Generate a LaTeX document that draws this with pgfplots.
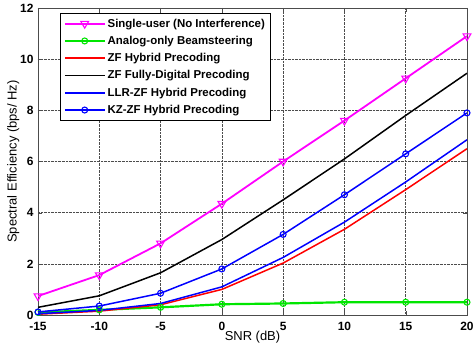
\documentclass[border=0pt]{standalone}
\usepackage{pgfplots}
\pgfplotsset{compat=1.18}
\usepackage{fontspec}
\setmainfont{Liberation Sans}
\begin{document}
\begin{tikzpicture}
\begin{axis}[
  scale only axis, width=429bp, height=307bp,
  xmin=-15, xmax=20, ymin=0, ymax=12,
  xtick={-15,-10,...,20}, ytick={0,2,...,12},
  grid=major, grid style={densely dotted, black!70, line width=0.5pt},
  axis line style={black!70, line width=0.8pt},
  tick style={black!70},
  tick align=inside,
  /pgf/number format/assume math mode=true,
  ticklabel style={font=\fontsize{12}{12}\selectfont\bfseries},
  xticklabel style={yshift=-3.5pt},
  yticklabel style={xshift=-1pt},
  xlabel={SNR (dB)}, ylabel={Spectral Efficiency (bps/ Hz)},
  label style={font=\fontsize{13}{13}\selectfont},
  xlabel style={yshift=6pt},
  ylabel style={yshift=-6pt},
  legend cell align=left,
  legend style={at={(0.051,0.984)}, anchor=north west, draw=black, line width=0.8pt,
    font=\fontsize{11.5}{13}\selectfont\bfseries, row sep=3.5pt, inner sep=3.5pt},
  legend image code/.code={\draw[mark repeat=2,mark phase=2] plot coordinates {(0cm,0cm) (0.7cm,0cm) (1.4cm,0cm)};},
  every axis plot/.append style={line width=1.5pt},
  mark options={solid, line width=1.1pt},
]
\coordinate (sw) at (rel axis cs:0,0);
\coordinate (ne) at (rel axis cs:1,1);
\addplot[color={rgb,255:red,255;green,0;blue,255}, line width=1.8pt, mark=triangle, mark size=4.5pt, mark options={rotate=180, solid, line width=1.1pt}] coordinates {
(-15,0.74) (-10,1.56) (-5,2.8) (0,4.35) (5,6.0) (10,7.6) (15,9.25) (20,10.9)};
\addlegendentry{Single-user (No Interference)}
\addplot[color={rgb,255:red,0;green,230;blue,0}, line width=2.2pt, mark=o, mark size=3pt] coordinates {
(-15,0.1) (-10,0.2) (-5,0.3) (0,0.42) (5,0.45) (10,0.5) (15,0.5) (20,0.5)};
\addlegendentry{Analog-only Beamsteering}
\addplot[color=red] coordinates {
(-15,0.03) (-10,0.15) (-5,0.4) (0,1.0) (5,2.03) (10,3.35) (15,4.9) (20,6.5)};
\addlegendentry{ZF Hybrid Precoding}
\addplot[color=black] coordinates {
(-15,0.3) (-10,0.75) (-5,1.65) (0,2.95) (5,4.5) (10,6.1) (15,7.8) (20,9.45)};
\addlegendentry{ZF Fully-Digital Precoding}
\addplot[color=blue] coordinates {
(-15,0.05) (-10,0.18) (-5,0.45) (0,1.1) (5,2.25) (10,3.63) (15,5.2) (20,6.85)};
\addlegendentry{LLR-ZF Hybrid Precoding}
\addplot[color=blue, mark=o, mark size=3pt] coordinates {
(-15,0.12) (-10,0.35) (-5,0.85) (0,1.8) (5,3.15) (10,4.7) (15,6.3) (20,7.9)};
\addlegendentry{KZ-ZF Hybrid Precoding}
\end{axis}
\pgfresetboundingbox
\path ([shift={(-38bp,-36bp)}]sw) rectangle ([shift={(7bp,8bp)}]ne);
\end{tikzpicture}
\end{document}
